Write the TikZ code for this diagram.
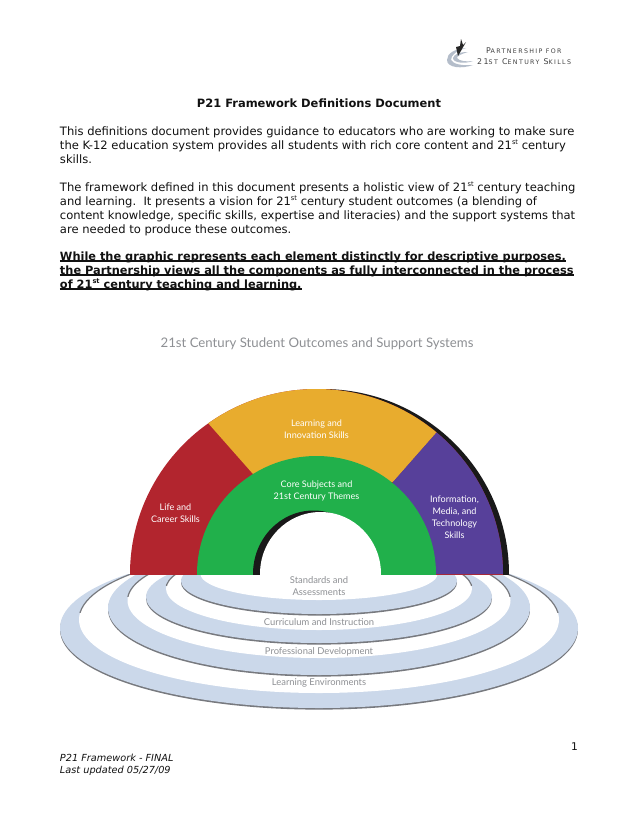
\documentclass[tikz,border=0pt]{standalone}
\usepackage{fontspec}
\setmainfont{DejaVu Sans}
\newfontfamily\figfont{Lato}
\newfontfamily\logofont[LetterSpace=22]{DejaVu Sans}
\definecolor{archred}{HTML}{B2252E}
\definecolor{archyellow}{HTML}{E8AC2E}
\definecolor{archpurple}{HTML}{57409A}
\definecolor{archgreen}{HTML}{21B04B}
\definecolor{ringblue}{HTML}{CBD8EA}
\definecolor{ringgray}{HTML}{77797E}
\definecolor{figtext}{HTML}{8E9094}
\definecolor{bodytext}{HTML}{111111}
\tikzset{
  every node/.style={inner sep=0pt,outer sep=0pt},
  bodyline/.style={anchor=base west,font=\fontsize{8.66}{11}\selectfont,text=bodytext},
  boldline/.style={anchor=base west,font=\fontsize{8.52}{11}\selectfont\bfseries,text=bodytext},
  footline/.style={anchor=base west,font=\fontsize{7.3}{10}\selectfont\itshape,text=bodytext},
  archlabel/.style={align=center,text=white,font=\figfont\fontsize{6.8}{9}\selectfont},
  ringlabel/.style={align=center,text=figtext,font=\figfont\fontsize{7.05}{9}\selectfont},
  logoline/.style={anchor=base west,text=black!75},
}
\newcommand{\sth}{\raisebox{3.1pt}{\fontsize{5}{5}\selectfont st}}
\newcommand{\ulbar}[1]{\setbox0=\hbox{#1}\rlap{\rule[-1.2pt]{\wd0}{0.85pt}}\box0}
\newcommand{\bigc}[1]{{\logofont\fontsize{5.9}{7}\selectfont #1}}
\newcommand{\smlc}[1]{{\logofont\fontsize{4.7}{7}\selectfont #1}}
\newcommand{\ring}[9]{%
  \begin{scope}
    \clip (0,574) rectangle (638,826);
    \fill[ringgray] (#1,#2+1.6) ellipse [x radius=#3,y radius=#4];
    \fill[ringblue] (#1,#2) ellipse [x radius=#3,y radius=#4];
    \fill[white] (#1,#5) ellipse [x radius=#6,y radius=#7];
  \end{scope}
  \begin{scope}
    \clip (0,574) rectangle (638,#8);
    \draw[ringgray,line width=#9] (#1,#5) ellipse [x radius=#6,y radius=#7];
  \end{scope}
}
\begin{document}
\begin{tikzpicture}[x=0.75pt,y=-0.75pt]
\useasboundingbox (0,0) rectangle (638,826);
\fill[white] (0,0) rectangle (638,826);

% logo
\fill[ringblue!70!gray] (447,60) .. controls (447,53) and (455,49) .. (466,48) .. controls (456,51) and (451,55) .. (451,60) .. controls (453,64) and (462,66) .. (473,65) .. controls (462,69) and (447,68) .. (447,60) -- cycle;
\fill[ringblue!70!gray] (453,58) .. controls (454,54) and (460,52) .. (468,52) .. controls (461,54) and (457,56) .. (457,58) .. controls (459,61) and (466,62) .. (473,61) .. controls (465,64) and (453,63) .. (453,58) -- cycle;
\fill[black!85] (461,39) -- (463,45) -- (466,42) -- (458,56) -- (456,47) -- (460,46) -- cycle;
\node[logoline] (logoa) at (486,53) {\bigc{P}\smlc{ARTNERSHIP FOR}};
\node[logoline] (logob) at (477,64) {\bigc{21}\smlc{ST} \bigc{C}\smlc{ENTURY} \bigc{S}\smlc{KILLS}};

% text
\node[anchor=base,font=\fontsize{8.6}{11}\selectfont\bfseries,text=bodytext] (title) at (319,107) {P21 Framework Definitions Document};
\node[bodyline] (p1a) at (60,135) {This definitions document provides guidance to educators who are working to make sure};
\node[bodyline] (p1b) at (60,149) {the K-12 education system provides all students with rich core content and 21\sth\ century};
\node[bodyline] (p1c) at (60,163) {skills.};
\node[bodyline] (p2a) at (60,191) {The framework defined in this document presents a holistic view of 21\sth\ century teaching};
\node[bodyline] (p2b) at (60,205) {and learning.\ \ It presents a vision for 21\sth\ century student outcomes (a blending of};
\node[bodyline] (p2c) at (60,219) {content knowledge, specific skills, expertise and literacies) and the support systems that};
\node[bodyline] (p2d) at (60,233) {are needed to produce these outcomes.};
\node[boldline] (p3a) at (60,260) {\ulbar{While the graphic represents each element distinctly for descriptive purposes,}};
\node[boldline] (p3b) at (60,274) {\ulbar{the Partnership views all the components as fully interconnected in the process}};
\node[boldline] (p3c) at (60,288) {\ulbar{of 21\sth\ century teaching and learning.}};

% figure title
\node[anchor=base,font=\figfont\fontsize{9.9}{13}\selectfont,text=figtext] (figtitle) at (317,347) {21st Century Student Outcomes and Support Systems};

% rings
\ring{319}{628}{259}{80}{619.6}{240}{73.4}{612}{0.9}
\ring{319}{608}{211}{67}{600.5}{191.5}{57.5}{596}{0.9}
\ring{319}{597}{173}{46}{588.7}{153}{41.3}{585}{0.9}
\ring{319}{581}{138}{33}{574}{118.5}{26}{574}{0.9}

% arch
\begin{scope}
  \clip (0,0) rectangle (638,574);
  \fill[black!90] (322.5,574) ellipse [x radius=186.5,y radius=185];
  \fill[archred] (316.5,574) ellipse [x radius=186.5,y radius=185];
  \begin{scope}
    \clip (208,423) -- (253,474) -- (393,482) -- (437,432) -- (437,300) -- (208,300) -- cycle;
    \fill[archyellow] (316.5,574) ellipse [x radius=186.5,y radius=185];
  \end{scope}
  \begin{scope}
    \clip (437,432) -- (393,482) -- (393,574) -- (520,574) -- (520,432) -- cycle;
    \fill[archpurple] (316.5,574) ellipse [x radius=186.5,y radius=185];
  \end{scope}
  \fill[archgreen] (316.5,574) ellipse [x radius=119.5,y radius=118];
  \fill[black!90] (313.5,574) ellipse [x radius=60.5,y radius=63.5];
  \fill[white] (320.5,574) ellipse [x radius=60.5,y radius=62];
\end{scope}

% arch labels
\node[archlabel] (learn) at (316.5,429) {Learning and\\Innovation Skills};
\node[archlabel] (life) at (175.5,513) {Life and\\Career Skills};
\node[archlabel] (core) at (316.5,490.5) {Core Subjects and\\21st Century Themes};
\node[archlabel] (info) at (454.5,517) {Information,\\Media, and\\Technology\\Skills};

% ring labels
\node[ringlabel] (std) at (319,586) {Standards and\\Assessments};
\node[ringlabel] (cur) at (319,622) {Curriculum and Instruction};
\node[ringlabel] (pro) at (319,652) {Professional Development};
\node[ringlabel] (env) at (319,683) {Learning Environments};

% footer
\node[anchor=base east,font=\fontsize{8}{10}\selectfont,text=bodytext] (page) at (578,750) {1};
\node[footline] (fa) at (60,761) {P21 Framework - FINAL};
\node[footline] (fb) at (60,773) {Last updated 05/27/09};
\end{tikzpicture}
\end{document}
